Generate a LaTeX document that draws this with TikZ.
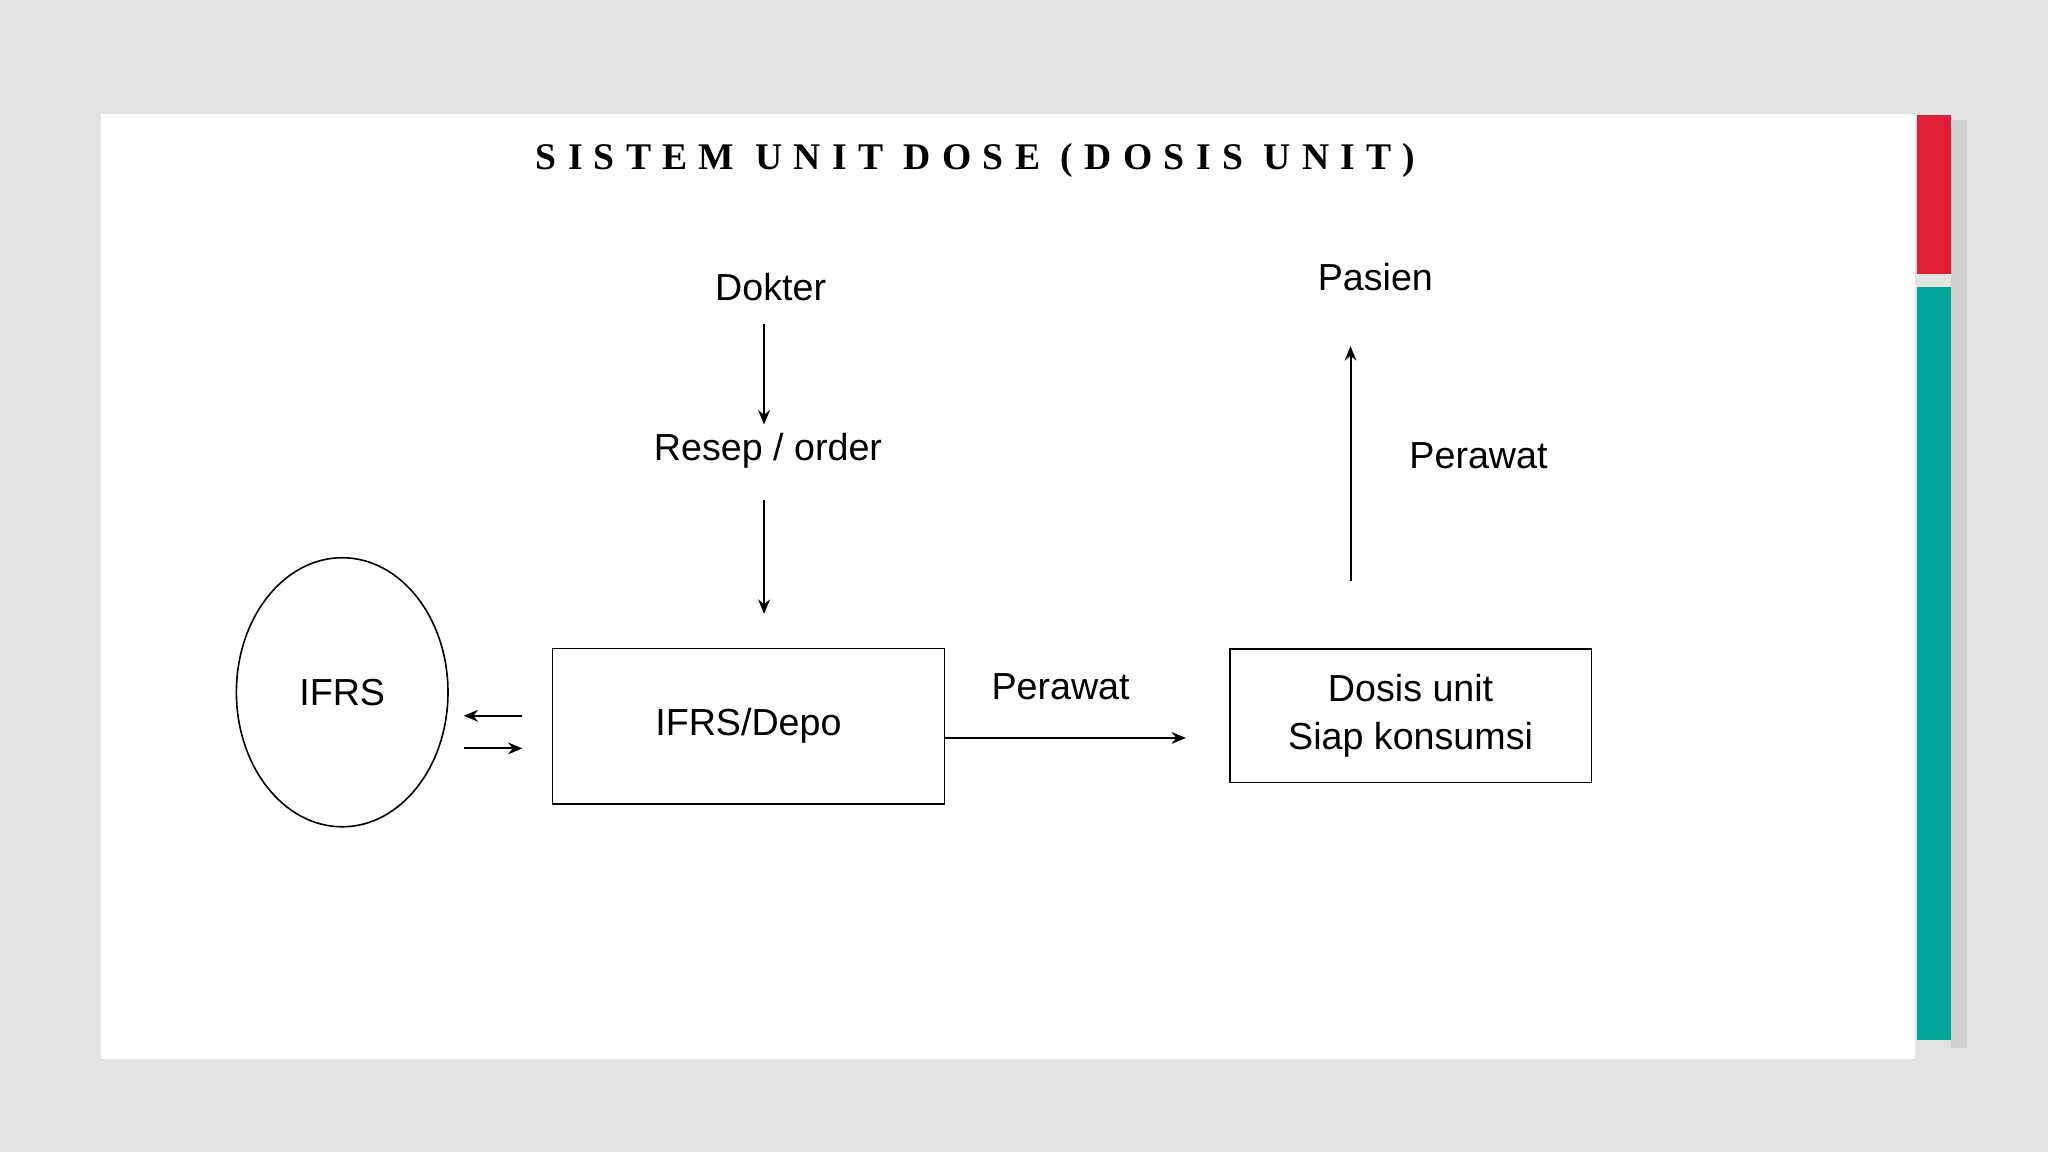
\documentclass[tikz,border=0pt]{standalone}
\usepackage{fontspec}
\setmainfont{Liberation Sans}
\newfontfamily\titlefont{Liberation Serif}
\usetikzlibrary{arrows.meta,shapes.geometric}
\definecolor{bggray}{RGB}{227,227,227}
\definecolor{barred}{RGB}{224,30,54}
\definecolor{barteal}{RGB}{0,166,153}
\begin{document}
\begin{tikzpicture}[x=0.1mm,y=-0.1mm,
  lbl/.style={font=\fontsize{8.2}{9.5}\selectfont,inner sep=0},
  box/.style={draw,line width=0.35pt},
  arr/.style={-{Stealth[length=1.1mm,width=0.9mm]},line width=0.45pt}]
\fill[bggray] (0,0) rectangle (1568,882);
\useasboundingbox (0,0) rectangle (1568,882);
\fill[black!25,opacity=0.5] (1494,92) rectangle (1506,802);
\fill[white] (77,87) rectangle (1466,811);
\fill[barred] (1468,88) rectangle (1494,210);
\fill[barteal] (1468,220) rectangle (1494,796);
\node[inner sep=0,font=\titlefont\bfseries\fontsize{8.2}{9}\selectfont] (title) at (747,123) {\addfontfeature{LetterSpace=30}SISTEM UNIT DOSE (DOSIS UNIT)};
\node[lbl] (dokter) at (590,220) {Dokter};
\node[lbl] (resep) at (588,345) {Resep / order};
\node[draw,ellipse,minimum width=16.2mm,minimum height=20.6mm,line width=0.35pt,lbl] (ifrs) at (262,530) {IFRS};
\node[box,minimum width=30mm,minimum height=11.9mm,lbl] (depo) at (573,556) {IFRS/Depo};
\node[box,minimum width=27.7mm,minimum height=10.2mm,lbl,align=center] (dosis) at (1080,548) {Dosis unit\\[1pt]Siap konsumsi};
\node[lbl] (perawat1) at (812,526) {Perawat};
\node[lbl] (perawat2) at (1132,349) {Perawat};
\node[lbl] (pasien) at (1053,212) {Pasien};
\coordinate (a1) at (585,248); \coordinate (a2) at (585,325);
\coordinate (b1) at (585,383); \coordinate (b2) at (585,470);
\coordinate (c1) at (400,548); \coordinate (c2) at (355,548);
\coordinate (d1) at (355,573); \coordinate (d2) at (400,573);
\coordinate (e1) at (723,565); \coordinate (e2) at (908,565);
\coordinate (f1) at (1034,445); \coordinate (f2) at (1034,265);
\draw[arr] (a1) -- (a2);
\draw[arr] (b1) -- (b2);
\draw[arr] (c1) -- (c2);
\draw[arr] (d1) -- (d2);
\draw[arr] (e1) -- (e2);
\draw[arr] (f1) -- (f2);
\end{tikzpicture}
\end{document}
